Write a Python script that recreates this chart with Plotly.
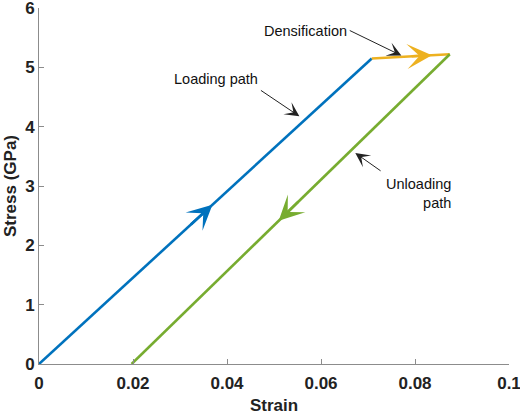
import numpy as np
import plotly.graph_objects as go

# stress-strain path
load_strain = [0.0, 0.0708]
load_stress = [0.0, 5.15]
dens_strain = [0.0708, 0.0874]
dens_stress = [5.15, 5.22]
unload_strain = [0.0874, 0.0197]
unload_stress = [5.22, 0.0]

x_ticks = [0, 0.02, 0.04, 0.06, 0.08, 0.1]
x_ticktext = ["0", "0.02", "0.04", "0.06", "0.08", "0.1"]
y_ticks = [0, 1, 2, 3, 4, 5, 6]

blue = "#0072BD"
orange = "#EDB120"
green = "#77AC30"
font = "Liberation Sans, Arial, sans-serif"

fig = go.Figure()
for xs, ys, c in [(load_strain, load_stress, blue),
                  (dens_strain, dens_stress, orange),
                  (unload_strain, unload_stress, green)]:
    fig.add_trace(go.Scatter(x=xs, y=ys, mode="lines",
                             line=dict(color=c, width=2.6), showlegend=False))


def on_path(xs, ys, x):
    order = np.argsort(xs)
    return float(np.interp(x, np.array(xs)[order], np.array(ys)[order]))


# direction arrows sitting on the paths: (tip strain, tail strain)
path_arrows = [
    (load_strain, load_stress, blue, 0.0369, 0.0320),
    (dens_strain, dens_stress, orange, 0.0836, 0.0790),
    (unload_strain, unload_stress, green, 0.0510, 0.0555),
]
for xs, ys, c, tip, tail in path_arrows:
    fig.add_annotation(x=tip, y=on_path(xs, ys, tip),
                       ax=tail, ay=on_path(xs, ys, tail),
                       xref="x", yref="y", axref="x", ayref="y",
                       text="", showarrow=True, arrowhead=3,
                       arrowsize=1.6, arrowwidth=2.6, arrowcolor=c)

# labels with black pointer arrows
labels = [
    ("Loading path", 0.0376, 4.80, "center", "center"),
    ("Densification", 0.0660, 5.62, "right", "right"),
    ("Unloading<br>path", 0.0881, 2.88, "right", "right"),
]
for txt, x, y, xa, al in labels:
    fig.add_annotation(x=x, y=y, text=txt, showarrow=False, xanchor=xa,
                       align=al, font=dict(family=font, size=14.5, color="#111"))

pointers = [
    (0.0554, 4.175, 0.0469, 4.628),
    (0.0771, 5.198, 0.0658, 5.633),
    (0.0673, 3.556, 0.0730, 3.238),
]
for x, y, ax, ay in pointers:
    fig.add_annotation(x=x, y=y, ax=ax, ay=ay, xref="x", yref="y",
                       axref="x", ayref="y", text="", showarrow=True,
                       arrowhead=3, arrowsize=2.4, arrowwidth=1,
                       arrowcolor="#222")

axis_common = dict(showgrid=False, zeroline=False, showline=True,
                   linecolor="#8c8c8c", linewidth=1, ticks="inside",
                   ticklen=5, tickcolor="#8c8c8c", automargin=False,
                   ticklabeloverflow="allow",
                   tickfont=dict(family=font, size=17, color="#222", weight="bold"))
fig.update_xaxes(range=[0, 0.1], tickvals=x_ticks, ticktext=x_ticktext,
                 ticklabelstandoff=4,
                 title=dict(text="<b>Strain</b>", standoff=6,
                            font=dict(family=font, size=17, color="#222")),
                 **axis_common)
fig.update_yaxes(range=[0, 6], tickvals=y_ticks,
                 title=dict(text="<b>Stress (GPa)</b>", standoff=4,
                            font=dict(family=font, size=17, color="#222")),
                 **axis_common)

fig.update_layout(width=520, height=416, plot_bgcolor="white",
                  paper_bgcolor="white",
                  margin=dict(l=39, r=11, t=8, b=52))

# drop the default 8px page margin so the figure fills the window
fig.write_html("out.html", config={"displayModeBar": False},
               post_script="document.body.style.margin='0';")
